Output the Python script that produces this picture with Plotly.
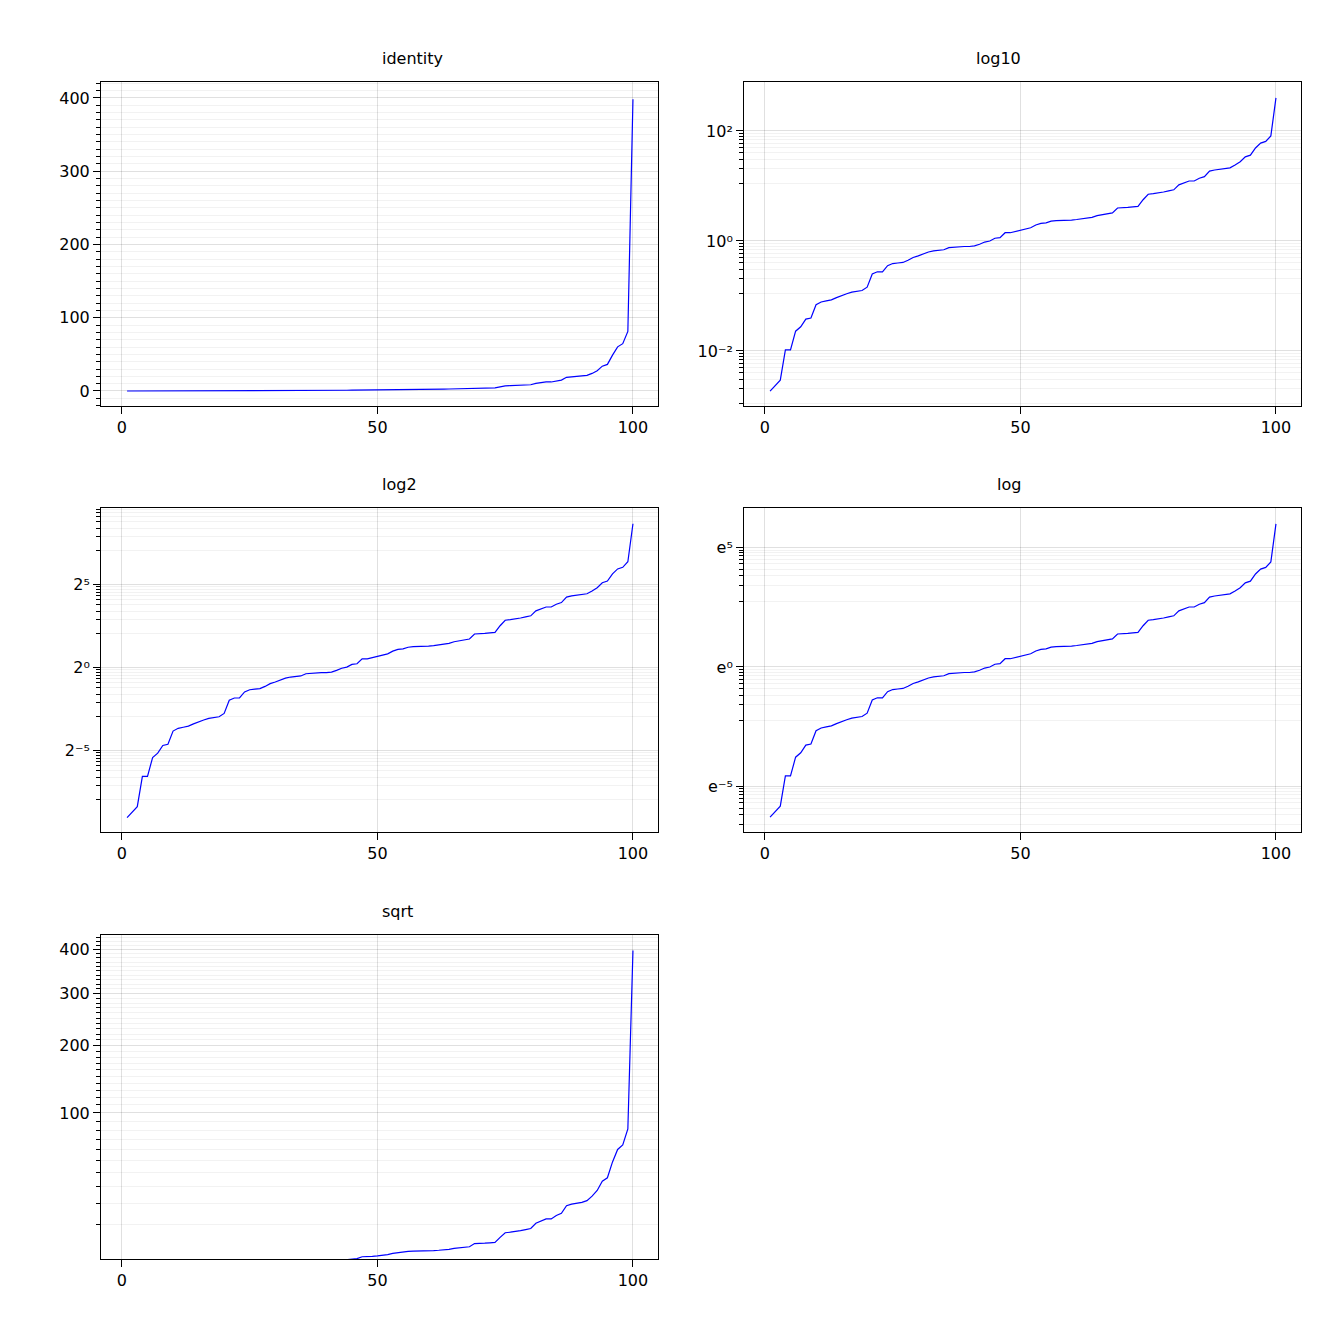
import numpy as np
import plotly.graph_objects as go

x_values = list(range(1, 101))
log10_values = [-2.73,-2.63,-2.53,-1.98,-1.98,-1.64,-1.56,-1.42,-1.40,-1.16,
 -1.11,-1.09,-1.07,-1.03,-0.99,-0.96,-0.93,-0.91,-0.90,-0.84,
 -0.60,-0.56,-0.56,-0.45,-0.41,-0.40,-0.39,-0.35,-0.30,-0.27,
 -0.23,-0.20,-0.18,-0.17,-0.16,-0.12,-0.11,-0.11,-0.10,-0.10,
 -0.09,-0.06,-0.02,0.00,0.05,0.06,0.15,0.15,0.17,0.19,
 0.21,0.24,0.29,0.32,0.33,0.36,0.37,0.37,0.38,0.38,
 0.39,0.40,0.41,0.43,0.46,0.48,0.50,0.51,0.60,0.60,
 0.61,0.62,0.63,0.75,0.85,0.86,0.87,0.89,0.91,0.93,
 1.02,1.06,1.09,1.09,1.14,1.17,1.27,1.29,1.30,1.31,
 1.33,1.38,1.44,1.53,1.56,1.69,1.78,1.81,1.91,2.60]
y_values = [10 ** v for v in log10_values]
titles = ["identity", "log10", "log2", "log", "sqrt"]

FONT = "DejaVu Sans"
W = 1333
xdoms = [[93/W, 650/W], [736/W, 1293/W]]
ydoms = [[1-398/W, 1-74/W], [1-824/W, 1-500/W], [1-1251/W, 1-927/W]]

fig = go.Figure()
axcommon = dict(showline=True, linecolor="black", linewidth=1, mirror=True,
                ticks="outside", ticklen=7, tickcolor="black", zeroline=False,
                gridcolor="rgba(0,0,0,0.12)", tickfont=dict(family=FONT, size=16, color="black"))
minorstyle = dict(ticks="outside", ticklen=4, tickcolor="black", showgrid=True,
                  gridcolor="rgba(0,0,0,0.05)")

def minor_between(majors):
    vals = []
    for a, b in zip(majors[:-1], majors[1:]):
        vals += [a + (b - a) * k / 10 for k in range(1, 10)]
    return vals

for i, t in enumerate(titles):
    r, c = divmod(i, 2)
    n = i + 1
    xa = "xaxis" if n == 1 else f"xaxis{n}"
    ya = "yaxis" if n == 1 else f"yaxis{n}"
    yv = y_values
    if t == "sqrt":
        yv = [np.sqrt(v) for v in y_values]
    fig.add_trace(go.Scatter(x=x_values, y=yv, mode="lines", line=dict(color="blue", width=1.2),
                             xaxis=f"x{n if n>1 else ''}", yaxis=f"y{n if n>1 else ''}",
                             showlegend=False, hoverinfo="skip"))
    fig.layout[xa] = dict(domain=xdoms[c], anchor=f"y{n if n>1 else ''}", range=[-4.1, 104.9],
                          tickvals=[0, 50, 100], **axcommon)
    if t == "identity":
        yd = dict(range=[-20.5, 421.8], tickvals=[0, 100, 200, 300, 400],
                  minor=dict(tickvals=[v for v in range(-20, 421, 10) if v % 100], **minorstyle))
    elif t == "log10":
        majors = [1e-3, 1e-2, 1, 1e2, 1e4]
        mj = [10.0**k for k in range(-3, 4)]
        yd = dict(type="log", range=[-3.0, 2.89], tickvals=[1e-2, 1, 1e2],
                  ticktext=["10⁻²", "10⁰", "10²"],
                  minor=dict(tickvals=minor_between([1e-5, 1e-2, 1, 1e2, 1e5])[0:0] +
                             [v for a in [1e-4, 1e-2, 1, 1e2] for v in [a*(1 + 99*k/10) for k in range(1, 10)]],
                             **minorstyle))
    elif t == "log2":
        mj = [2.0**-15, 2.0**-10, 2.0**-5, 1, 2.0**5, 2.0**10]
        yd = dict(type="log", range=[-2.99, 2.885], tickvals=[2.0**-5, 1, 2.0**5],
                  ticktext=["2⁻⁵", "2⁰", "2⁵"], minor=dict(tickvals=minor_between(mj), **minorstyle))
    elif t == "log":
        e = np.e
        mj = [e**-10, e**-5, 1, e**5, e**10]
        yd = dict(type="log", range=[-3.0, 2.89], tickvals=[e**-5, 1, e**5],
                  ticktext=["e⁻⁵", "e⁰", "e⁵"], minor=dict(tickvals=minor_between(mj), **minorstyle))
    else:
        yd = dict(range=[1.05, 20.9], tickvals=[10, np.sqrt(200), np.sqrt(300), 20],
                  ticktext=["100", "200", "300", "400"],
                  minor=dict(tickvals=[np.sqrt(v) for v in range(10, 440, 10) if v % 100], **minorstyle))
    fig.layout[ya] = dict(domain=ydoms[r], anchor=f"x{n if n>1 else ''}", **axcommon, **yd)
    fig.add_annotation(text=t, x=(xdoms[c][0]+xdoms[c][1])/2, y=ydoms[r][1] + 12/W,
                       xref="paper", yref="paper", showarrow=False, yanchor="bottom",
                       font=dict(family=FONT, size=16, color="black"))

fig.update_layout(width=1333, height=1333, margin=dict(l=0, r=0, t=0, b=0),
                  plot_bgcolor="white", paper_bgcolor="white", font=dict(family=FONT))
fig.write_html("out.html")
